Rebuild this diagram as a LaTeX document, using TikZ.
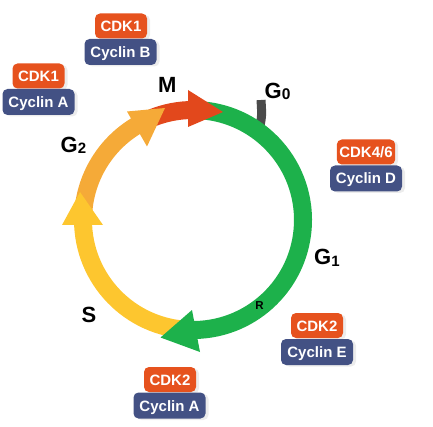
\documentclass[tikz,border=0pt]{standalone}
\usepackage{fontspec}
\setmainfont{Liberation Sans}
\usetikzlibrary{shadows}
\definecolor{cgreen}{HTML}{1DB14B}
\definecolor{cred}{HTML}{E2481C}
\definecolor{corange}{HTML}{F5AA38}
\definecolor{cyellow}{HTML}{FDC62F}
\definecolor{cgray}{HTML}{4B4B4B}
\definecolor{boxorange}{HTML}{E6521E}
\definecolor{boxblue}{HTML}{435184}
\newcommand{\ringband}[3]{\fill[#1] (#2:119) arc[start angle=#2, end angle=#3, radius=119] -- (#3:101) arc[start angle=#3, end angle=#2, radius=101] -- cycle;}
\begin{document}
\begin{tikzpicture}[x=1pt,y=-1pt,
  ring/.style={shift={(193,220)},yscale=-1},
  boxbase/.style={text=white, rounded corners=5pt, inner ysep=0pt, text height=11pt, text depth=0pt,
    font=\fontsize{15}{15}\selectfont\bfseries,
    drop shadow={opacity=0.15,shadow xshift=3pt,shadow yshift=-1.5pt}},
  cdk/.style={boxbase, fill=boxorange, minimum width=52pt, minimum height=25pt, inner xsep=2.5pt},
  cyc/.style={boxbase, fill=boxblue, minimum width=72pt, minimum height=26pt, inner xsep=5pt},
  phase/.style={font=\fontsize{22}{22}\selectfont\bfseries, inner sep=0pt, anchor=base west},
  sub/.style={font=\fontsize{15.5}{15.5}\selectfont\bfseries}
]
\useasboundingbox (0,0) rectangle (433,427);

% G0 stub
\draw[cgray, line width=9pt] (259,131) .. controls (262,116) .. (261,100);

% ring
\begin{scope}[ring]
  \ringband{cgreen}{86}{-92}
  \ringband{cyellow}{268}{180}
\end{scope}
\fill[cgreen] (192,310) -- (160.5,337.5) -- (200,352) -- cycle;
\begin{scope}[ring]
  \ringband{corange}{175}{119}
\end{scope}
\fill[cyellow] (62,225) -- (80,192) -- (103,225) -- cycle;
\begin{scope}[ring]
  \ringband{cred}{112}{90}
\end{scope}
\fill[corange] (127,111.5) -- (165,108) -- (147,146.5) -- cycle;
\fill[cred] (188,90) -- (223,112) -- (188,127) -- cycle;

% phase labels
\node[phase] (M) at (158,93) {M};
\node[phase] (G0) at (264.5,98.3) {G\raisebox{-1.2pt}{\fontsize{15.5}{15.5}\selectfont 0}};
\node[phase] (G2) at (60.5,152.5) {G\raisebox{-1.5pt}{\fontsize{15}{15}\selectfont 2}};
\node[phase] (G1) at (314,265) {G\raisebox{-1.5pt}{\fontsize{15}{15}\selectfont 1}};
\node[phase] (S) at (81.5,322) {S};
\node[font=\fontsize{11.5}{11.5}\selectfont\bfseries, inner sep=0pt] (R) at (259.5,305.5) {R};

% CDK / cyclin complexes
\node[cdk] (cdkB) at (121,26) {CDK1};
\node[cyc] (cycB) at (120.5,52) {Cyclin B};
\node[cdk] (cdkA1) at (38.5,76) {CDK1};
\node[cyc] (cycA1) at (38.5,102) {Cyclin A};
\node[cdk] (cdkD) at (366,152) {CDK4/6};
\node[cyc] (cycD) at (366,178.5) {Cyclin D};
\node[cdk] (cdkE) at (317,325.5) {CDK2};
\node[cyc] (cycE) at (317,352) {Cyclin E};
\node[cdk] (cdkA2) at (170,379.5) {CDK2};
\node[cyc] (cycA2) at (169.5,405.5) {Cyclin A};
\end{tikzpicture}
\end{document}
